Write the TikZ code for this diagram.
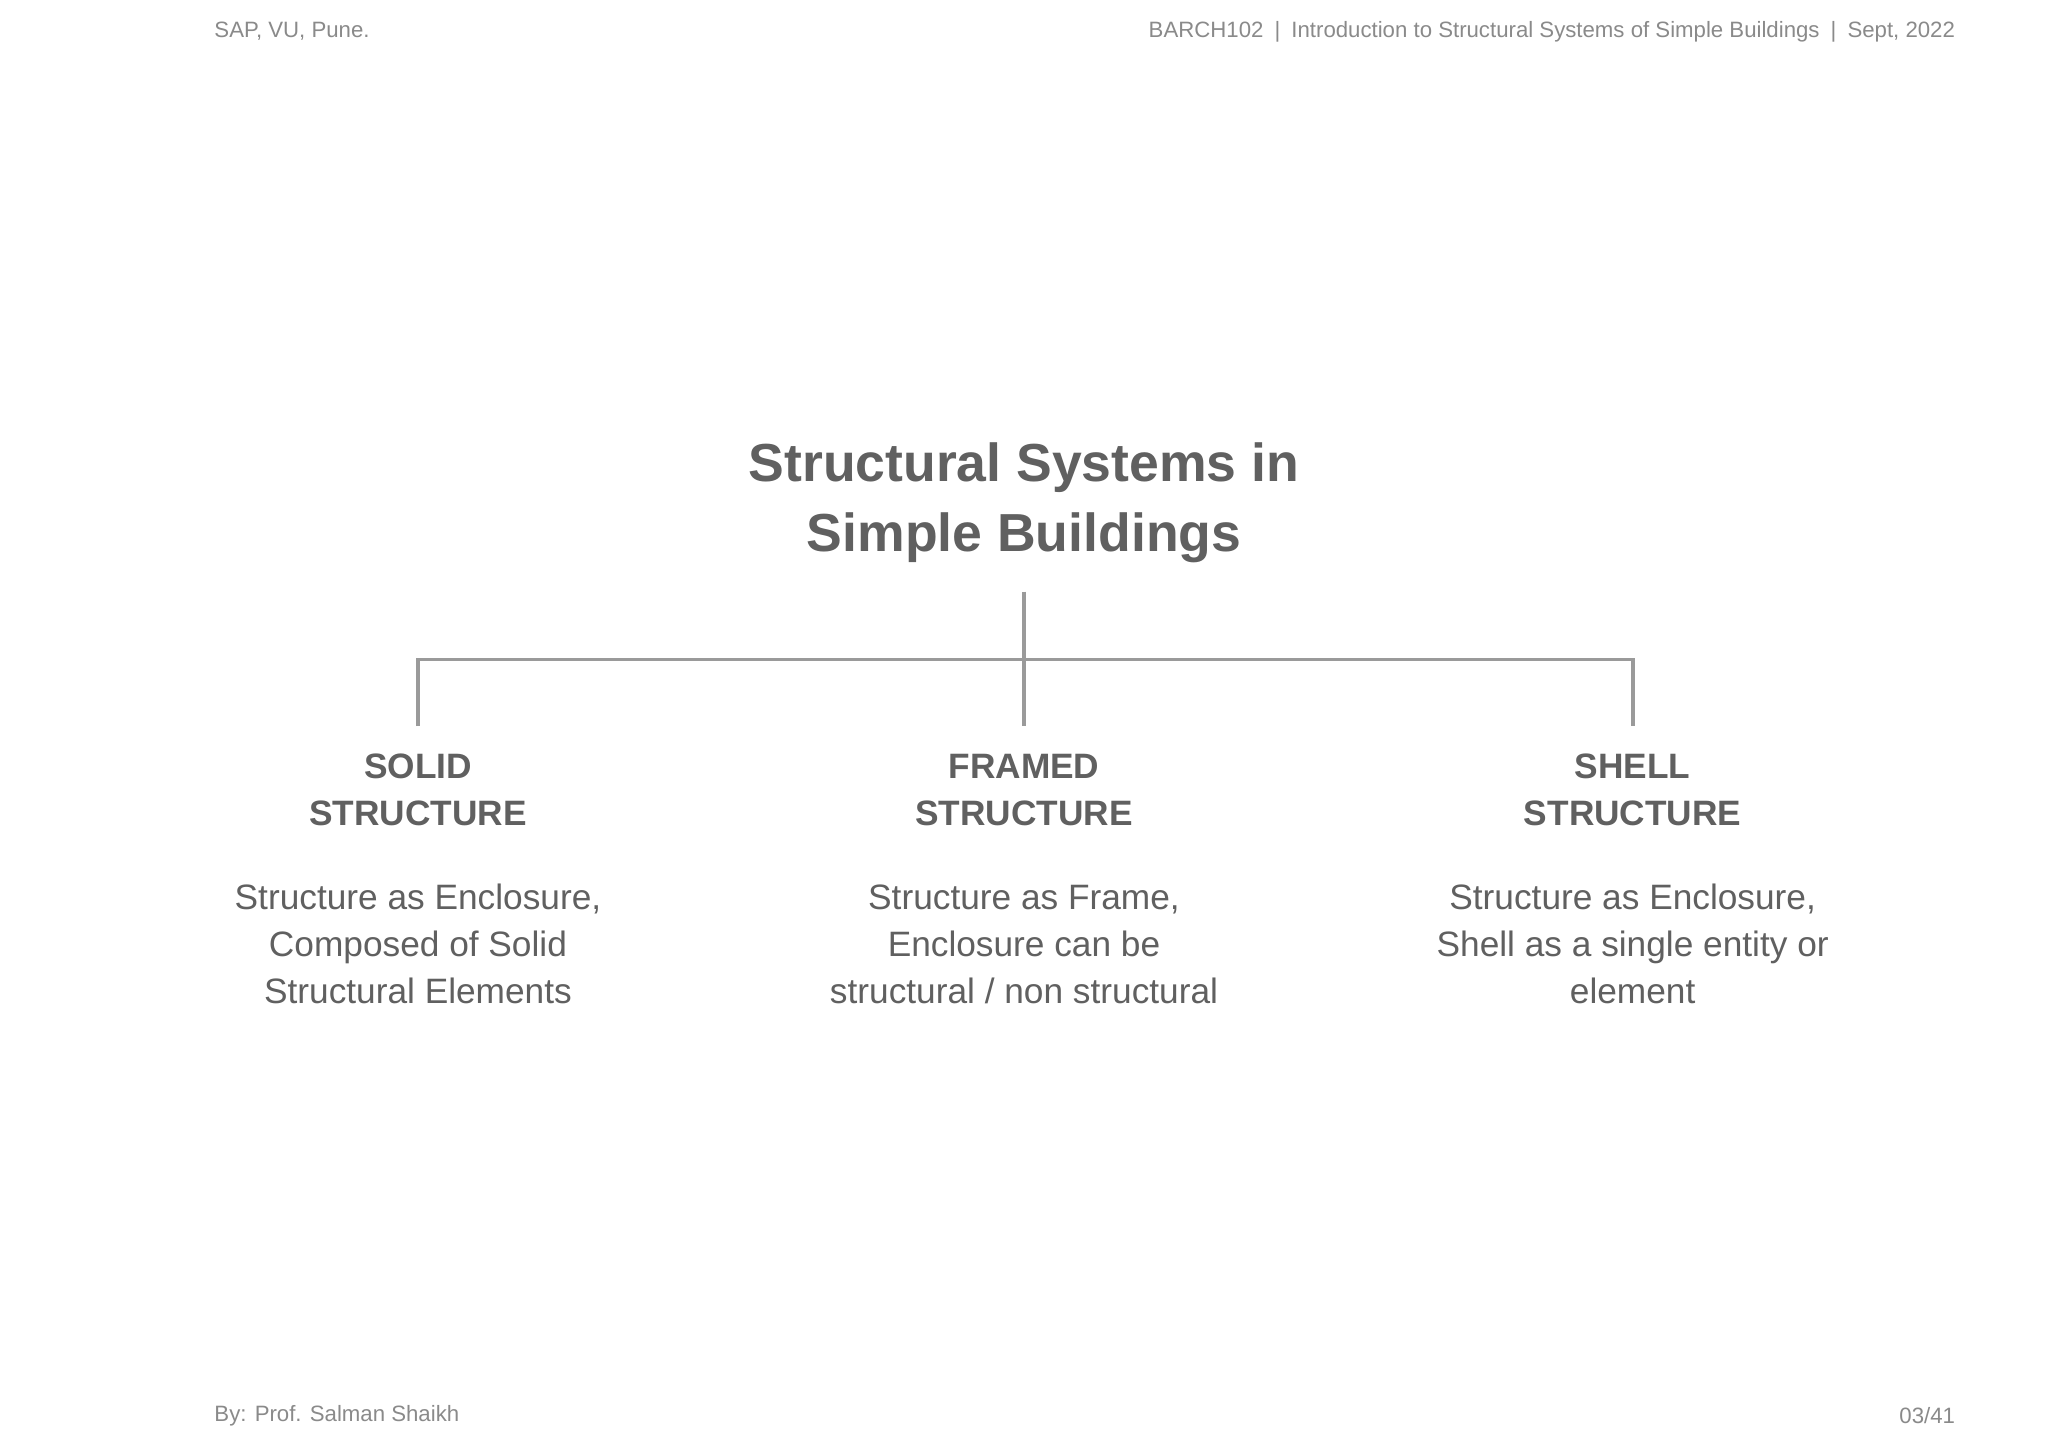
\documentclass[tikz,border=0pt]{standalone}
\usepackage{fontspec}
\setmainfont{Liberation Sans}
\definecolor{txt}{HTML}{606060}
\definecolor{hdr}{HTML}{8A8A8A}
\definecolor{ln}{HTML}{9A9A9A}
\begin{document}
\begin{tikzpicture}[x=1pt,y=-1pt,
  hd/.style={text=hdr,font=\fontsize{17}{20}\selectfont,inner sep=0pt},
  ttl/.style={text=txt,font=\bfseries\fontsize{41}{54}\selectfont,align=center},
  sub/.style={text=txt,font=\bfseries\fontsize{27}{36}\selectfont,align=center},
  body/.style={text=txt,font=\fontsize{27}{36}\selectfont,align=center},
  conn/.style={draw=ln,line width=2.8pt}]
\useasboundingbox[fill=white] (0,0) rectangle (1568,1109);
\node[hd,anchor=west] (h1) at (164,24) {SAP, VU, Pune.};
\node[hd,anchor=east] (h2) at (1497,24) {BARCH102\enspace|\enspace Introduction to Structural Systems of Simple Buildings\enspace|\enspace Sept, 2022};
\node[hd,anchor=west] (f1) at (164,1084) {By: Prof. Salman Shaikh};
\node[hd,anchor=east] (f2) at (1497,1084) {03/41};
\node[ttl] (title) at (784,385) {Structural Systems in\\Simple Buildings};
\coordinate (top) at (784,453);
\coordinate (mid) at (784,505);
\coordinate (l) at (320,505);
\coordinate (r) at (1250,505);
\coordinate (lb) at (320,556);
\coordinate (mb) at (784,556);
\coordinate (rb) at (1250,556);
\draw[conn] (top) -- (mb);
\draw[conn] (lb) -- (l) -- (r) -- (rb);
\node[sub] (s1) at (320,605) {SOLID\\STRUCTURE};
\node[sub] (s2) at (784,605) {FRAMED\\STRUCTURE};
\node[sub] (s3) at (1250,605) {SHELL\\STRUCTURE};
\node[body] (b1) at (320,723) {Structure as Enclosure,\\Composed of Solid\\Structural Elements};
\node[body] (b2) at (784,723) {Structure as Frame,\\Enclosure can be\\structural / non structural};
\node[body] (b3) at (1250,723) {Structure as Enclosure,\\Shell as a single entity or\\element};
\end{tikzpicture}
\end{document}
